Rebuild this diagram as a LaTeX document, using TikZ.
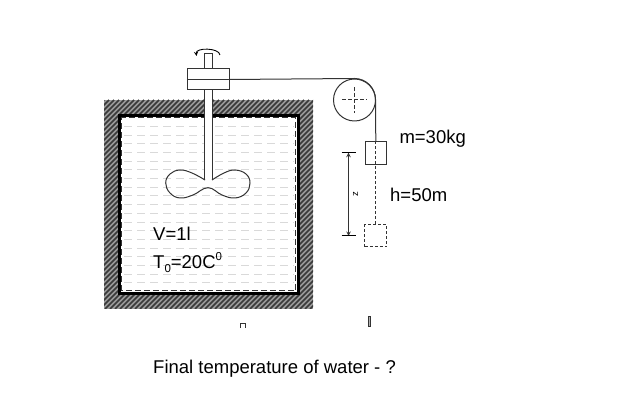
\documentclass[tikz,border=0pt]{standalone}
\usepackage{fontspec}
\setmainfont{Liberation Sans}
\usetikzlibrary{arrows,calc}
\definecolor{wallgray}{gray}{0.6}
\definecolor{hatchgray}{gray}{0.22}
\definecolor{inkgray}{gray}{0.2}
\definecolor{watergray}{gray}{0.85}
\tikzstyle{line}=[-, inkgray, line width=1pt]
\tikzstyle{block}=[rectangle, draw=inkgray, line width=1pt, inner sep=0pt]
\tikzstyle{txt}=[anchor=base west, inner sep=0pt, font=\fontsize{18.5}{20}\selectfont]
\newcommand{\smallfig}[2]{\raisebox{#1}{\fontsize{11.5}{12}\selectfont #2}}

\begin{document}
\begin{tikzpicture}[x=1pt, y=1pt]
        \useasboundingbox (0,0) rectangle (631,409);

        % wall
        \fill[wallgray] (104,100) rectangle (313,309);
        \begin{scope}
            \clip (104,100) rectangle (313,309);
            \foreach \d in {-210,-205,...,320}
                \draw[hatchgray, line width=1.5pt] (\d,100) -- +(209,209);
        \end{scope}
        \draw[black, fill=white, line width=3pt] (119,115) rectangle (298,293);
        \draw[inkgray, line width=1pt, dash pattern=on 6pt off 3pt] (121.5,118) rectangle (295.7,291);

        % water
        \foreach \y in {126,134.7,...,284}
            \draw[watergray, line width=1pt, dash pattern=on 8pt off 5pt] (124,\y) -- (294,\y);

        % shaft and motor
        \node[rectangle, fill=white, inner sep=0pt, minimum width=8pt, minimum height=111pt] (shaft) at (208.3,284.5) {};
        \draw[line] (shaft.north west) -- (shaft.south west);
        \draw[line] (shaft.north east) -- (shaft.south east);
        \node[block, fill=white, minimum width=8pt, minimum height=16pt] (spindle) at (208.3,347) {};
        \node[block, fill=white, minimum width=42pt, minimum height=21pt] (motor) at (208.3,329.5) {};
        \draw[line] (motor.west) -- (motor.east);

        % rotation
        \coordinate (rotA) at (220,354);
        \coordinate (rotB) at (196.5,353);
        \draw[-stealth, black, line width=0.9pt] (rotA) .. controls (219,361.5) and (195.5,361.5) .. (rotB);

        % impeller
        \draw[line] plot[smooth, tension=0.7] coordinates {(205,229) (192,236) (180,239) (170,235) (165.7,226) (170,216) (180,211) (193,214) (208,221.3) (222,214) (235,211) (246,216) (250,226) (246,235) (235,239) (224,236) (212,229)};

        % pulley and weight
        \node[circle, draw=inkgray, line width=1pt, inner sep=0pt, minimum size=42pt] (pulley) at (354.5,309) {};
        \coordinate (crossW) at (342.3,309);
        \coordinate (crossE) at (367.3,309);
        \coordinate (crossN) at (354.5,321.7);
        \coordinate (crossS) at (354.5,295.7);
        \draw[inkgray, line width=1pt, dash pattern=on 4pt off 2pt] (crossW) -- (crossE);
        \draw[inkgray, line width=1pt, dash pattern=on 4pt off 2pt] (crossN) -- (crossS);
        \node[block, minimum width=21.5pt, minimum height=22.3pt] (mass) at (375.8,256) {};
        \node[block, dash pattern=on 3pt off 2pt, minimum width=22pt, minimum height=22pt] (ghost) at (375.8,173) {};
        \draw[line] (motor.east) -- (pulley.north) arc[start angle=90, end angle=0, radius=21pt] -- (mass.north);
        \draw[inkgray, line width=1pt, dash pattern=on 3pt off 2pt] (mass.north) -- (ghost.north);

        % height
        \coordinate (dimTop) at (348.5,256.3);
        \coordinate (dimBot) at (348.5,173);
        \draw[stealth-stealth, inkgray, line width=1pt] (dimTop) -- (dimBot);
        \draw[black, line width=1pt] ($(dimTop)+(-7,0)$) -- ($(dimTop)+(7,0)$);
        \draw[black, line width=1pt] ($(dimBot)+(-7,0)$) -- ($(dimBot)+(7,0)$);
        \node[rotate=90, inner sep=0pt, font=\fontsize{9.5}{10}\selectfont\rmfamily] (zlabel) at (355.7,215) {z};

        % stray marks
        \draw[inkgray, line width=0.8pt] (240.7,81) -- (240.7,86) -- (245.5,86) -- (245.5,81);
        \draw[inkgray, fill=gray!60, line width=0.6pt] (368,83) rectangle (370.5,93);

        % text
        \node[txt] (volume) at (153,168.3) {V=1l};
        \node[txt] (temp) at (153,140.7) {T\smallfig{-4pt}{0}=20C\smallfig{7.5pt}{0}};
        \node[txt] (mlabel) at (399.3,265.5) {m=30kg};
        \node[txt] (hlabel) at (390,207.5) {h=50m};
        \node[txt] (question) at (153,35) {Final temperature of water - ?};
    \end{tikzpicture}
\end{document}
